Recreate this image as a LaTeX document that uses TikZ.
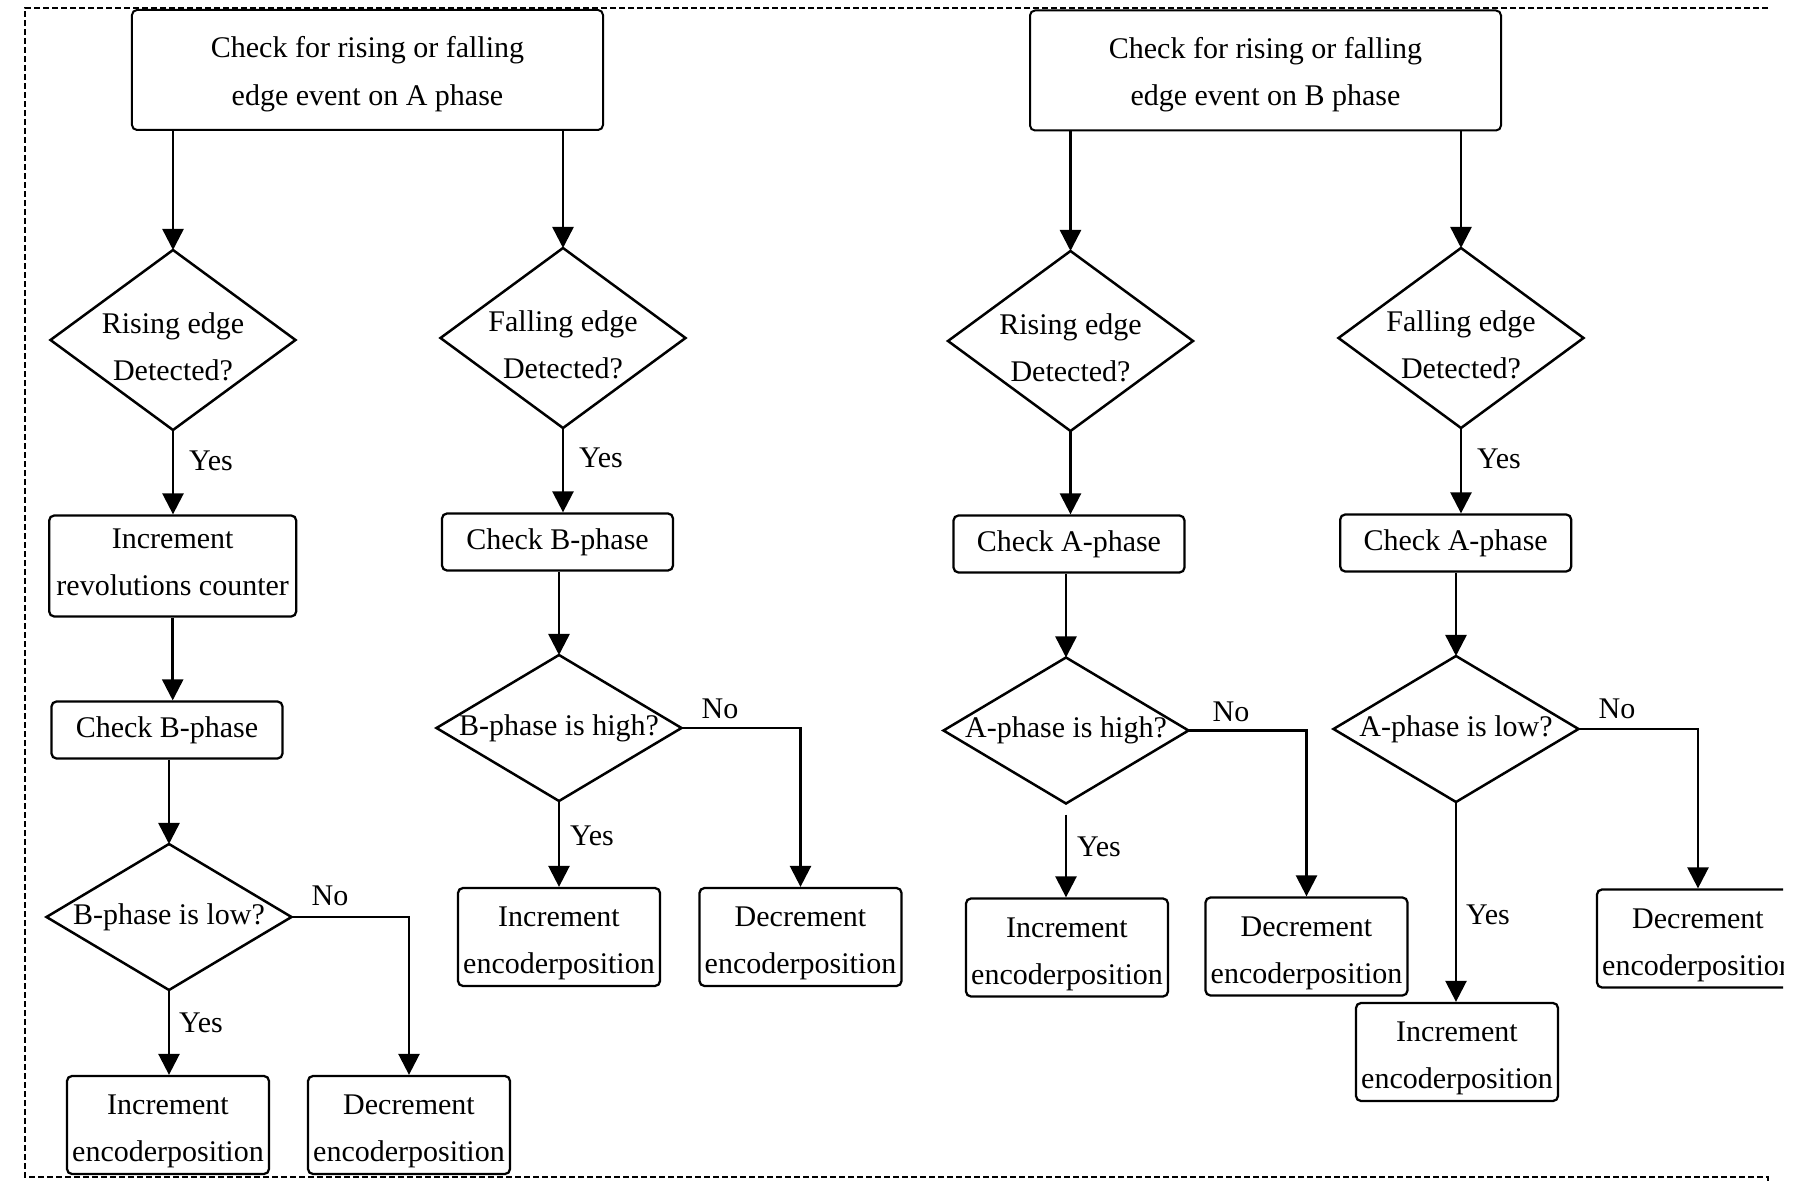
\documentclass[tikz,border=0pt]{standalone}
\usepackage{fontspec}
\setmainfont{Liberation Serif}
\usetikzlibrary{arrows.meta}
\newcommand\myliftres{\rule{0pt}{13.2pt}}
\newcommand\mylifttop{\rule{0pt}{11.8pt}}
\newcommand\myliftdia{\rule{0pt}{13.6pt}}
\begin{document}
\begin{tikzpicture}[x=0.4pt,y=-0.4pt,
  every node/.style={font=\fontsize{12pt}{18.9pt}\selectfont},
  box/.style={draw, rectangle, rounded corners=2pt, line width=0.9pt, align=center, inner sep=0pt},
  topbox/.style={box, line width=0.8pt, minimum width=188.4pt, minimum height=48pt},
  revbox/.style={box, minimum width=98.8pt, minimum height=40.4pt, execute at end node={\rule[-3pt]{0pt}{0pt}}},
  chk/.style={box, minimum width=92.4pt, minimum height=22.8pt},
  res/.style={box, minimum width=80.8pt, minimum height=39.2pt},
  dia/.style={rectangle, inner sep=0pt, align=center, minimum width=97.6pt},
  dtop/.style={dia, minimum height=71.6pt},
  dlow/.style={dia, minimum height=58pt},
  arr/.style={line width=1pt, -{Triangle[width=8.4pt,length=8.4pt]}},
  dline/.style={line width=1pt, line join=miter},
  lbl/.style={inner sep=0pt},
  frame/.style={line width=0.7pt, dash pattern=on 2.4pt off 1.2pt}
]
\useasboundingbox (0,0) rectangle (1801,1184);

% frame
\draw[frame] (1768,8) -- (25,8) -- (25,1177) -- (1768,1177) -- (1768,1183);

% top boxes
\node[topbox] (tA) at (367.5,70) {\mylifttop Check for rising or falling\\edge event on A phase};
\node[topbox] (tB) at (1265.5,70.5) {\mylifttop Check for rising or falling\\edge event on B phase};

% column 1
\node[dtop] (d1) at (173,340) {\myliftdia Rising edge\\Detected?};
\node[revbox] (rev) at (172.7,566) {Increment\\revolutions counter};
\node[chk] (cb1) at (167,730) {Check B-phase};
\node[dlow] (d2) at (169,917) {B-phase is low?};
\node[res] (i1) at (168,1125) {\myliftres Increment\\encoderposition};
\node[res] (e1) at (409,1125) {\myliftres Decrement\\encoderposition};

% column 2
\node[dtop] (d3) at (563,338) {\myliftdia Falling edge\\Detected?};
\node[chk] (cb2) at (557.5,542) {Check B-phase};
\node[dlow] (d4) at (559,728) {B-phase is high?};
\node[res] (i2) at (559,937) {\myliftres Increment\\encoderposition};
\node[res] (e2) at (800.5,937) {\myliftres Decrement\\encoderposition};

% column 3
\node[dtop] (d5) at (1070.5,341) {\myliftdia Rising edge\\Detected?};
\node[chk] (ca1) at (1069,544) {Check A-phase};
\node[dlow] (d6) at (1066,730.5) {A-phase is high?};
\node[res] (i3) at (1067,947.5) {\myliftres Increment\\encoderposition};
\node[res] (e3) at (1306.5,946.5) {\myliftres Decrement\\encoderposition};

% column 4
\node[dtop] (d7) at (1461,338) {\myliftdia Falling edge\\Detected?};
\node[chk] (ca2) at (1455.7,543) {Check A-phase};
\node[dlow] (d8) at (1456,729) {A-phase is low?};
\node[res] (i4) at (1457,1052) {\myliftres Increment\\encoderposition};
\begin{scope}
\clip (0,0) rectangle (1783,1184);
\node[res] (e4) at (1698,938.5) {\myliftres Decrement\\encoderposition};
\end{scope}

% diamonds
\foreach \d in {d1,d2,d3,d4,d5,d6,d7,d8}
  \draw[dline] (\d.north) -- (\d.east) -- (\d.south) -- (\d.west) -- cycle;

% connectors
\draw[arr] (d1.north |- tA.south) -- (d1.north);
\draw[arr] (d3.north |- tA.south) -- (d3.north);
\draw[arr] (d5.north |- tB.south) -- (d5.north);
\draw[arr] (d7.north |- tB.south) -- (d7.north);

\draw[arr] (d1.south) -- (d1.south |- rev.north);
\draw[arr] (rev.south) -- (rev.south |- cb1.north);
\draw[arr] (d2.north |- cb1.south) -- (d2.north);
\draw[arr] (d2.south) -- (d2.south |- i1.north);
\draw[arr] (d2.east) -| (e1.north);

\draw[arr] (d3.south) -- (d3.south |- cb2.north);
\draw[arr] (d4.north |- cb2.south) -- (d4.north);
\draw[arr] (d4.south) -- (d4.south |- i2.north);
\draw[arr] (d4.east) -| (e2.north);

\draw[arr] (d5.south) -- (d5.south |- ca1.north);
\draw[arr] (d6.north |- ca1.south) -- (d6.north);
\draw[arr] ([yshift=-4.4pt]d6.south) -- (d6.south |- i3.north);
\draw[arr] (d6.east) -| (e3.north);

\draw[arr] (d7.south) -- (d7.south |- ca2.north);
\draw[arr] (d8.north |- ca2.south) -- (d8.north);
\draw[arr] (d8.south) -- (d8.south |- i4.north);
\draw[arr] (d8.east) -| (e4.north);

% labels
\node[lbl] (y1) at (211,461) {Yes};
\node[lbl] (y2) at (601,458) {Yes};
\node[lbl] (y3) at (201,1023) {Yes};
\node[lbl] (y4) at (592,836) {Yes};
\node[lbl] (y5) at (1099,847) {Yes};
\node[lbl] (y6) at (1499,459) {Yes};
\node[lbl] (y7) at (1488,915) {Yes};
\node[lbl] (n1) at (330,896) {No};
\node[lbl] (n2) at (720,709) {No};
\node[lbl] (n3) at (1231,712) {No};
\node[lbl] (n4) at (1617,709) {No};
\end{tikzpicture}
\end{document}
